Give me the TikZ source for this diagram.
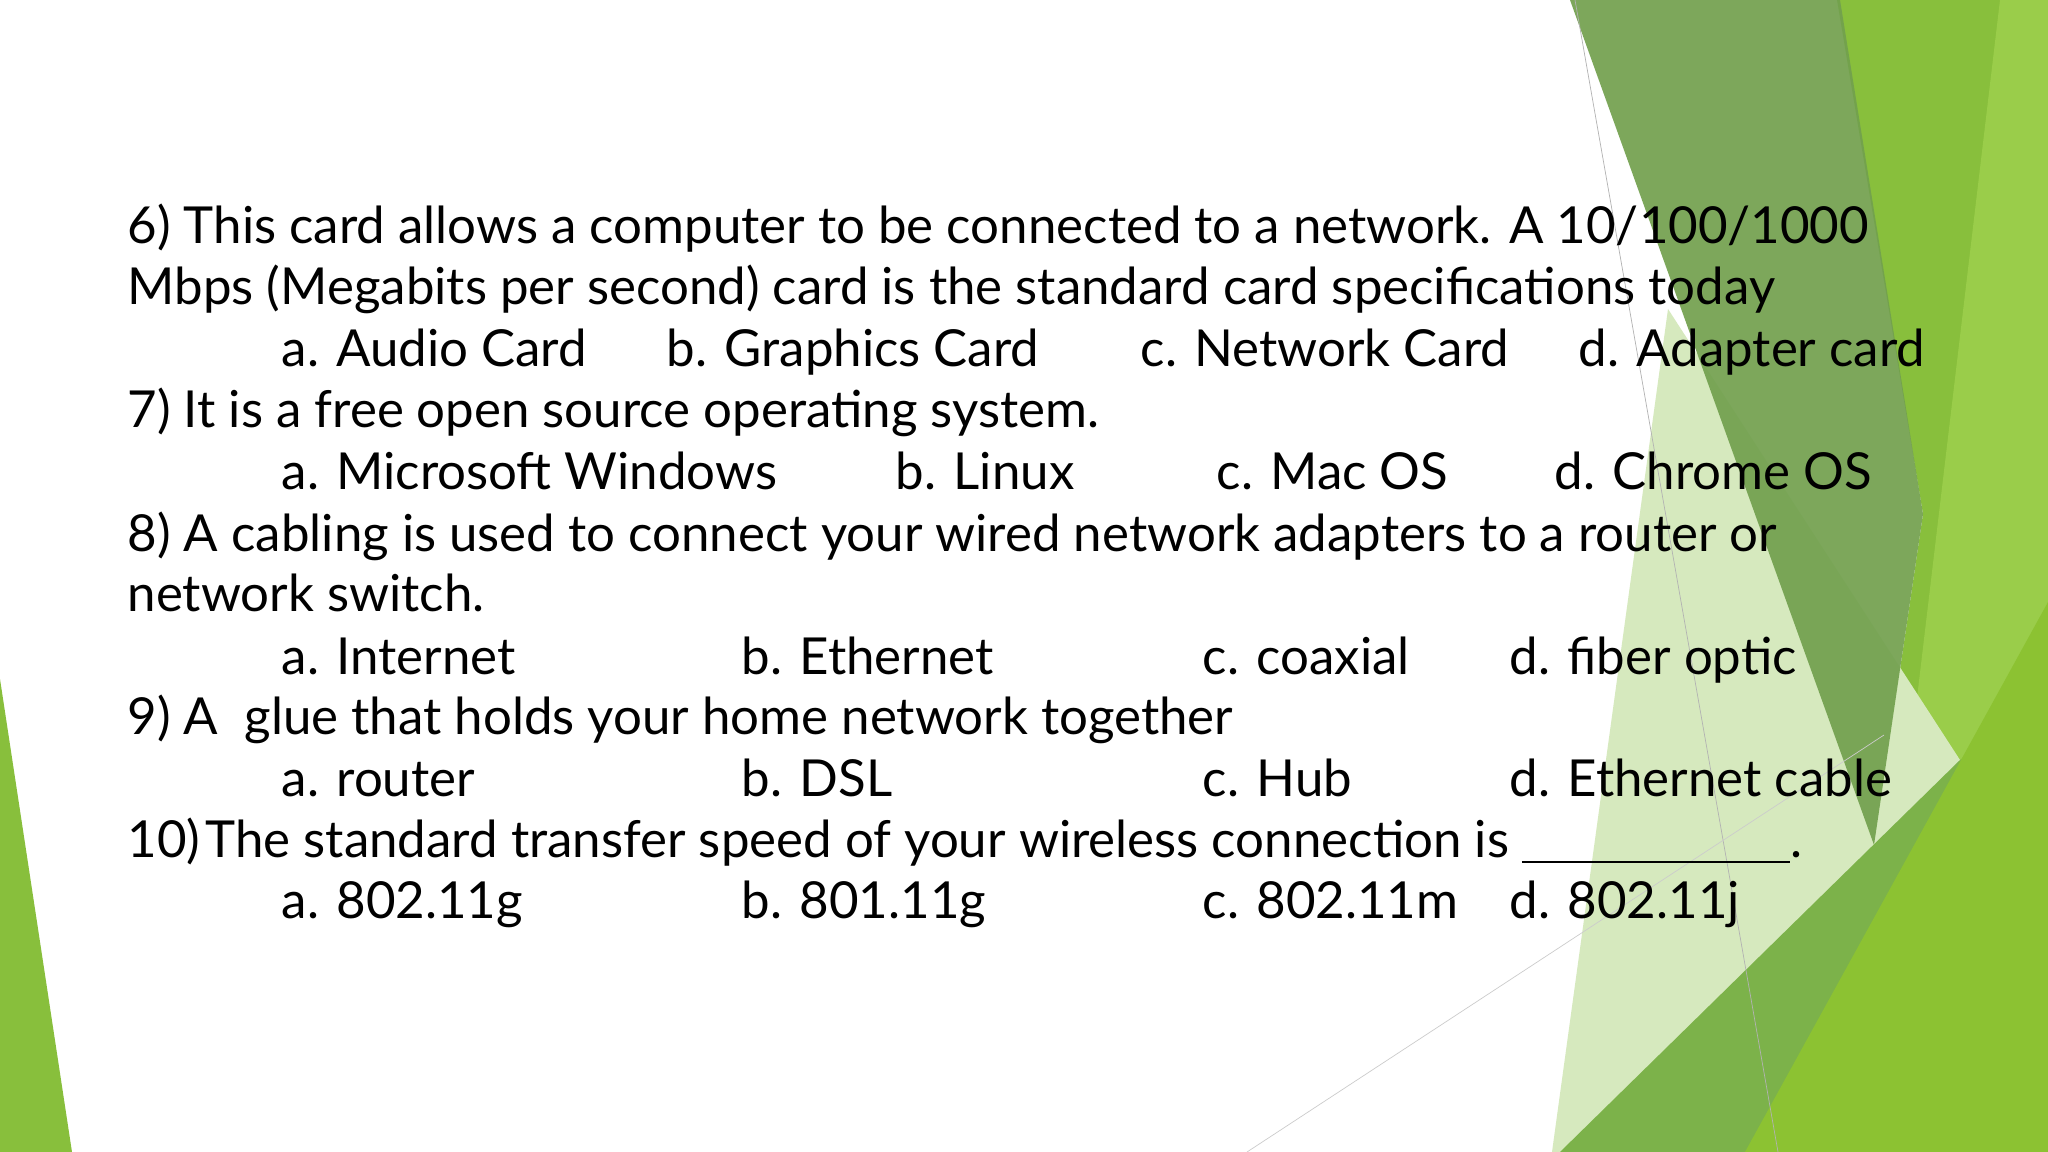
\documentclass[tikz,border=0pt]{standalone}
\usepackage{fontspec}
\setmainfont{Lato}
\definecolor{brightgreen}{HTML}{88BF3C}
\definecolor{lightstrip}{HTML}{9ACD4A}
\definecolor{mutedgreen}{HTML}{72A04E}
\definecolor{palegreen}{HTML}{D6E9BE}
\definecolor{midgreen}{HTML}{7CB24A}
\definecolor{limegreen}{HTML}{8CC232}
\tikzset{>=latex}
\tikzstyle{qline} = [anchor=base west,
                     inner sep=0pt,
                     font=\fontsize{14.5}{17}\selectfont]
\begin{document}
\begin{tikzpicture}[x=0.01cm, y=-0.01cm]

  % Background
  \useasboundingbox (0,0) rectangle (2048,1152);
  \fill[white] (0,0) rectangle (2048,1152);
  \fill[brightgreen] (1837,0) -- (2048,0) -- (2048,1152) -- (1860,1152) -- (1874,845) -- (1923,514) -- cycle;
  \fill[lightstrip] (2000,0) -- (2048,0) -- (2048,1152) -- (1863,1152) -- cycle;
  \fill[palegreen] (1668,309) -- (1960,760) -- (1700,1152) -- (1552,1152) -- cycle;
  \fill[mutedgreen, opacity=0.92] (1570,0) -- (1840,0) -- (1923,514) -- (1874,845) -- cycle;
  \fill[midgreen] (1560,1152) -- (1960,760) -- (2048,700) -- (2048,1152) -- cycle;
  \fill[limegreen] (1745,1152) -- (2048,602) -- (2048,1152) -- cycle;
  \fill[brightgreen] (0,679) -- (72,1152) -- (0,1152) -- cycle;
  \draw[gray!60, very thin] (1575,0) -- (1778,1152);
  \draw[gray!40, very thin] (1247,1152) -- (1884,735);

  % Questions
  \node[qline] (q6a) at (127,244) {6) This card allows a computer to be connected to a network. A 10/100/1000};
  \node[qline] (q6b) at (127,305) {Mbps (Megabits per second) card is the standard card specifications today};
  \node[qline] (o6a) at (281,367) {a. Audio Card};
  \node[qline] (o6b) at (666,367) {b. Graphics Card};
  \node[qline] (o6c) at (1140,367) {c. Network Card};
  \node[qline] (o6d) at (1578,367) {d. Adapter card};
  \node[qline] (q7) at (127,428) {7) It is a free open source operating system.};
  \node[qline] (o7a) at (281,490) {a. Microsoft Windows};
  \node[qline] (o7b) at (895,490) {b. Linux};
  \node[qline] (o7c) at (1216,490) {c. Mac OS};
  \node[qline] (o7d) at (1554,490) {d. Chrome OS};
  \node[qline] (q8a) at (127,551) {8) A cabling is used to connect your wired network adapters to a router or};
  \node[qline] (q8b) at (127,612) {network switch.};
  \node[qline] (o8a) at (281,674) {a. Internet};
  \node[qline] (o8b) at (741,674) {b. Ethernet};
  \node[qline] (o8c) at (1202,674) {c. coaxial};
  \node[qline] (o8d) at (1509,674) {d. fiber optic};
  \node[qline] (q9) at (127,735) {9) A\ \ glue that holds your home network together};
  \node[qline] (o9a) at (281,796) {a. router};
  \node[qline] (o9b) at (741,796) {b. DSL};
  \node[qline] (o9c) at (1202,796) {c. Hub};
  \node[qline] (o9d) at (1509,796) {d. Ethernet cable};
  \node[qline] (q10n) at (127,857) {10)};
  \node[qline] (q10) at (205,857) {The standard transfer speed of your wireless connection is \underline{\hspace{2.68cm}}.};
  \node[qline] (o10a) at (281,918) {a. 802.11g};
  \node[qline] (o10b) at (741,918) {b. 801.11g};
  \node[qline] (o10c) at (1202,918) {c. 802.11m};
  \node[qline] (o10d) at (1509,918) {d. 802.11j};

\end{tikzpicture}
\end{document}
